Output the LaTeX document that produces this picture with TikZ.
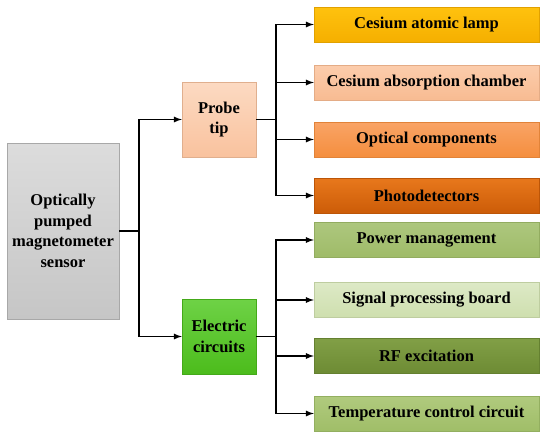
\documentclass[tikz,border=0pt]{standalone}
\usepackage{fontspec}
\setmainfont{Liberation Serif}
\usepackage{xcolor}
\usetikzlibrary{arrows, positioning, calc}

\definecolor{sensorTop}{HTML}{DCDCDC}
\definecolor{sensorBot}{HTML}{C6C6C6}
\definecolor{probeTop}{HTML}{FCDAC2}
\definecolor{probeBot}{HTML}{F9C29E}
\definecolor{elecTop}{HTML}{6ED246}
\definecolor{elecBot}{HTML}{4CBC1C}
\definecolor{lampTop}{HTML}{FFC20E}
\definecolor{lampBot}{HTML}{F5AF00}
\definecolor{chamberTop}{HTML}{FCCDAC}
\definecolor{chamberBot}{HTML}{F8BB92}
\definecolor{opticTop}{HTML}{F9A466}
\definecolor{opticBot}{HTML}{F58E3E}
\definecolor{photoTop}{HTML}{E8781C}
\definecolor{photoBot}{HTML}{CC5C08}
\definecolor{powerTop}{HTML}{ADC77E}
\definecolor{powerBot}{HTML}{9FBB68}
\definecolor{signalTop}{HTML}{DDE9C6}
\definecolor{signalBot}{HTML}{CEDFAE}
\definecolor{rfTop}{HTML}{819F46}
\definecolor{rfBot}{HTML}{6D8B34}
\definecolor{tempTop}{HTML}{B0CA7E}
\definecolor{tempBot}{HTML}{A0BE68}

\tikzset{
    block/.style={font=\bfseries\fontsize{16.5}{20.5}\selectfont, align=center, inner sep=0pt},
    item/.style={block, minimum width=225pt, minimum height=35pt},
    link/.style={line width=1.7pt, black},
    arr/.style={link, -latex}
}

\begin{document}
\begin{tikzpicture}[x=1pt, y=-1pt]
\useasboundingbox (0,0) rectangle (550,440);

% Sensor
\node[block, minimum width=112pt, minimum height=176pt, top color=sensorTop, bottom color=sensorBot, draw=sensorBot!85!black] (sensor) at (63,231) {Optically\\pumped\\magnetometer\\sensor};

% Subsystems
\node[block, minimum width=74pt, minimum height=75pt, top color=probeTop, bottom color=probeBot, draw=probeBot!90!black] (probe) at (219,119.5) {Probe\\tip};
\node[block, minimum width=74pt, minimum height=75pt, top color=elecTop, bottom color=elecBot, draw=elecBot!90!black] (elec) at (219,336.5) {Electric\\circuits};

\coordinate (split) at (139,231);
\draw[link] (sensor.east) -- (split);
\draw[arr] (split) |- (probe.west);
\draw[arr] (split) |- (elec.west);

% Probe tip parts
\coordinate (probesplit) at (276,119.5);
\draw[link] (probe.east) -- (probesplit);
\foreach \name/\y/\col/\txt in {lamp/24.5/lamp/Cesium atomic lamp,
    chamber/82.5/chamber/Cesium absorption chamber,
    optic/139.5/optic/Optical components,
    photo/195.5/photo/Photodetectors} {
    \node[item, top color=\col Top, bottom color=\col Bot, draw=\col Bot!92!black] (\name) at (426.5,\y) {\txt};
    \draw[arr] (probesplit) |- (\name.west);
}

% Electric circuit parts
\coordinate (elecsplit) at (276,336.5);
\draw[link] (elec.east) -- (elecsplit);
\foreach \name/\y/\col/\txt in {power/240/power/Power management,
    signal/300/signal/Signal processing board,
    rf/356/rf/RF excitation,
    temp/413.5/temp/Temperature control circuit} {
    \node[item, top color=\col Top, bottom color=\col Bot, draw=\col Bot!92!black] (\name) at (426.5,\y) {\txt};
    \draw[arr] (elecsplit) |- (\name.west);
}
\end{tikzpicture}
\end{document}
